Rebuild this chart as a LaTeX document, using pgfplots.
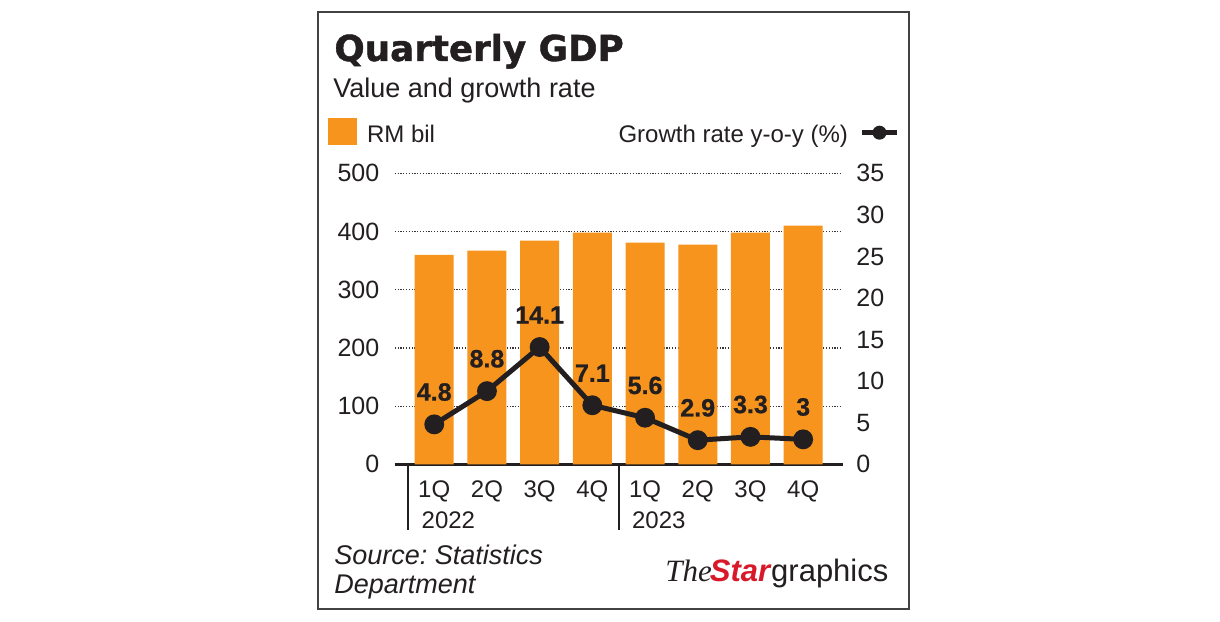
\documentclass[border=0pt]{standalone}
\usepackage{pgfplots}
\pgfplotsset{compat=1.18}
\usepackage{fontspec}
\setmainfont{Liberation Sans}
\newfontfamily\titlefont{DejaVu Sans Bold}[FakeBold=1.2]
\newfontfamily\labelfont{Liberation Sans Bold}[FakeBold=0.8]
\newfontfamily\logoserif{Liberation Serif}
\definecolor{barorange}{RGB}{247,148,29}
\definecolor{ink}{RGB}{35,31,32}
\definecolor{starred}{RGB}{215,25,42}
\frenchspacing

\begin{document}
\begin{tikzpicture}
\path[use as bounding box] (0,0) rectangle (610pt,310.5pt);
\fill[white] (0,0) rectangle (610pt,310.5pt);
\begin{scope}[x=0.5pt,y=-0.5pt,yshift=310.5pt]
  \draw[line width=1pt, color=ink!85] (318.3,11.7) rectangle (909.3,609.3);
  \node[anchor=base west, inner sep=0pt, text=ink, font=\titlefont\fontsize{17.85}{20}\selectfont] at (334,61) {Quarterly GDP};
  \node[anchor=base west, inner sep=0pt, text=ink, font=\fontsize{13.5}{16}\selectfont] at (333,97.7) {Value and growth rate};
  % legend
  \fill[barorange] (328,117.7) rectangle (356.7,145);
  \node[anchor=base west, inner sep=0pt, text=ink, font=\fontsize{12}{14}\selectfont] at (366.7,142.5) {RM bil};
  \node[anchor=base east, inner sep=0pt, text=ink, font=\fontsize{12}{14}\selectfont] at (848.3,142.5) {Growth rate y-o-y (\%)};
  \draw[ink, line width=2.5pt] (862,132.7) -- (897,132.7);
  \fill[ink] (879.5,132.7) circle[radius=7];
  % source
  \node[anchor=base west, inner sep=0pt, text=ink, font=\itshape\fontsize{13.5}{16}\selectfont] at (334,564.3) {Source: Statistics};
  \node[anchor=base west, inner sep=0pt, text=ink, font=\itshape\fontsize{13.5}{16}\selectfont] at (334,593.3) {Department};
  % logo
  \node[anchor=base west, inner sep=0pt, text=ink] at (665,581.7) {{\logoserif\itshape\fontsize{15.5}{18}\selectfont The}\hspace{-1pt}{\color{starred}\bfseries\itshape\fontsize{15.5}{18}\selectfont Star}\hspace{0.5pt}{\fontsize{15.5}{18}\selectfont graphics}};
  % year labels and separators
  \node[anchor=base west, inner sep=0pt, text=ink, font=\fontsize{12}{14}\selectfont] at (421.3,529) {2022};
  \node[anchor=base west, inner sep=0pt, text=ink, font=\fontsize{12}{14}\selectfont] at (631.7,529) {2023};
  \draw[ink, line width=0.8pt] (407.9,464.3) -- (407.9,530);
  \draw[ink, line width=0.8pt] (618.7,464.3) -- (618.7,530);
\end{scope}

\begin{axis}[
  at={(197.35pt,78.35pt)}, anchor=south west,
  scale only axis, width=224pt, height=145.5pt,
  xmin=-0.75, xmax=7.75, ymin=0, ymax=500,
  clip=false,
  axis x line*=bottom, axis y line*=left,
  y axis line style={draw=none},
  x axis line style={line width=1.3pt, color=ink},
  major tick length=0pt,
  xtick={0,...,7}, xticklabels={1Q,2Q,3Q,4Q,1Q,2Q,3Q,4Q},
  ytick={0,100,...,500},
  ymajorgrids, major grid style={dash pattern=on 0.6pt off 0.8pt, line width=0.6pt, color=ink!90},
  /pgf/number format/assume math mode=true,
  yticklabel style={font=\fontsize{12.5}{14}\selectfont, text=ink, inner sep=0pt, xshift=-7.5pt},
  xticklabel style={font=\fontsize{12}{14}\selectfont, text=ink, inner sep=0pt, anchor=north, yshift=-7.8pt},
]
\addplot[ybar, bar width=19.5pt, bar shift=0pt, fill=barorange, draw=none]
  coordinates {(0,360) (1,367) (2,384.5) (3,398) (4,381) (5,377.5) (6,398) (7,410)};
\end{axis}

\begin{axis}[
  at={(197.35pt,78.35pt)}, anchor=south west,
  scale only axis, width=224pt, height=145.5pt,
  xmin=-0.75, xmax=7.75, ymin=0, ymax=35,
  clip=false,
  axis x line=none, axis y line*=right,
  y axis line style={draw=none},
  major tick length=0pt,
  xtick=\empty,
  ytick={0,5,...,35},
  /pgf/number format/assume math mode=true,
  yticklabel style={font=\fontsize{12.5}{14}\selectfont, text=ink, inner sep=0pt, xshift=6.7pt},
]
\addplot[ink, line width=2.5pt, mark=*, mark size=3.7pt,
  point meta=explicit symbolic,
  nodes near coords,
  every node near coord/.append style={font=\labelfont\fontsize{12.5}{14}\selectfont, text=ink, anchor=south, inner sep=0pt, yshift=10.5pt}]
  coordinates {(0,4.8) [4.8] (1,8.8) [8.8] (2,14.1) [14.1] (3,7.1) [7.1] (4,5.6) [5.6] (5,2.9) [2.9] (6,3.3) [3.3] (7,3) [3]};
\end{axis}
\end{tikzpicture}
\end{document}
